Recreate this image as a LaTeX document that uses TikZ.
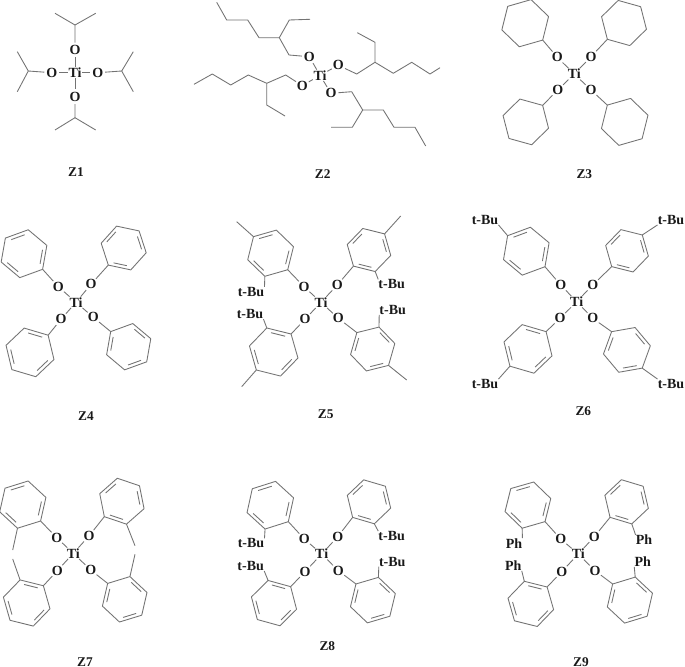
\documentclass[tikz,border=0pt]{standalone}
\usepackage{fontspec}
\setmainfont{Liberation Serif}
\usetikzlibrary{calc}
\tikzset{
  bond/.style={draw=black!55,line width=0.65pt,line join=round},
  atomlab/.style={font=\fontsize{10.5}{11}\selectfont\bfseries,text=black!90,inner sep=0.4pt},
  oatom/.style={atomlab,circle,inner sep=0pt},
  subst/.style={font=\fontsize{10.5}{11}\selectfont\bfseries,text=black!90,inner sep=0pt},
  caption/.style={font=\fontsize{10}{11}\selectfont\bfseries,text=black!90,inner sep=0pt}
}
% ring: name, centre, angle of the carbon bound to O (image sense), radius, aromatic flag handled by caller
\newcommand{\ringpts}[4]{%
  \coordinate (#1c) at (#2);
  \coordinate (#1v0) at ($(#1c)+({#3}:#4)$);
  \coordinate (#1v1) at ($(#1c)+({#3-60}:#4)$);
  \coordinate (#1v2) at ($(#1c)+({#3-120}:#4)$);
  \coordinate (#1v3) at ($(#1c)+({#3-180}:#4)$);
  \coordinate (#1v4) at ($(#1c)+({#3-240}:#4)$);
  \coordinate (#1v5) at ($(#1c)+({#3-300}:#4)$);
  \draw[bond] (#1v0)--(#1v1)--(#1v2)--(#1v3)--(#1v4)--(#1v5)--cycle;
}
\newcommand{\cyhex}[5]{% name, centre, angle, radius, O node
  \ringpts{#1}{#2}{#3}{#4}
  \draw[bond] (#5)--(#1v0);
}
\newcommand{\aryl}[5]{% name, centre, angle, radius, O node
  \ringpts{#1}{#2}{#3}{#4}
  \draw[bond] ($(#1c)+({#3-8}:{0.78*#4})$)--($(#1c)+({#3-52}:{0.78*#4})$);
  \draw[bond] ($(#1c)+({#3-128}:{0.78*#4})$)--($(#1c)+({#3-172}:{0.78*#4})$);
  \draw[bond] ($(#1c)+({#3-248}:{0.78*#4})$)--($(#1c)+({#3-292}:{0.78*#4})$);
  \draw[bond] (#5)--(#1v0);
}
\newcommand{\core}[9]{% prefix, Ti, O1..O4, caption text, caption pos, (unused)
  \node[atomlab] (#1Ti) at (#2) {Ti};
  \node[oatom] (#1Oa) at (#3) {O};
  \node[oatom] (#1Ob) at (#4) {O};
  \node[oatom] (#1Oc) at (#5) {O};
  \node[oatom] (#1Od) at (#6) {O};
  \draw[bond] (#1Ti)--(#1Oa);
  \draw[bond] (#1Ti)--(#1Ob);
  \draw[bond] (#1Ti)--(#1Oc);
  \draw[bond] (#1Ti)--(#1Od);
  \node[caption] (#1cap) at (#8) {#7};
}
\newcommand{\sublab}[5]{% label name, vertex, text, position, anchor of the label
  \node[subst] (#1) at (#4) {#3};
  \draw[bond] (#2)--(#1.#5);
}
\newcommand{\methyl}[3]{% name, vertex, end
  \coordinate (#1) at (#3);
  \draw[bond] (#2)--(#1);
}
\newcommand{\chainpts}[2]{\draw[bond] #1 #2;}
\begin{document}
\begin{tikzpicture}[x=0.75pt,y=-0.75pt]
\path[fill=white,use as bounding box] (0,0) rectangle (685,667);

% ---------- Z1 ----------
\core{a}{75,72.7}{75,50}{97.7,72.7}{51.7,72.7}{75,96.7}{Z1}{76,171.7}{}
\coordinate (a1) at (75,25);
\coordinate (a1l) at (55,13.3);
\coordinate (a1r) at (95.7,13.3);
\draw[bond] (aOa)--(a1) (a1l)--(a1)--(a1r);
\coordinate (a2) at (121.7,71);
\coordinate (a2l) at (133.3,51.7);
\coordinate (a2r) at (133.3,91.7);
\draw[bond] (aOb)--(a2) (a2l)--(a2)--(a2r);
\coordinate (a3) at (28.3,71);
\coordinate (a3l) at (17.3,51.7);
\coordinate (a3r) at (17.3,91.7);
\draw[bond] (aOc)--(a3) (a3l)--(a3)--(a3r);
\coordinate (a4) at (75,117.7);
\coordinate (a4l) at (55,130);
\coordinate (a4r) at (95.7,130);
\draw[bond] (aOd)--(a4) (a4l)--(a4)--(a4r);

% ---------- Z2 ----------
\core{b}{320,75.3}{309.3,56.7}{338.3,65.3}{302.3,85.7}{331,93.3}{Z2}{322.7,174}{}
\coordinate (b1a) at (289,55);
\coordinate (b1b) at (279.3,37.7);
\draw[bond] (bOa)--(b1a)--(b1b)--(289.3,20)--(310,19.3);
\draw[bond] (b1b)--(259,37.7)--(247.7,20)--(226.7,20)--(216.7,2.3);
\coordinate (b2a) at (356.7,74);
\coordinate (b2b) at (375,62.3);
\draw[bond] (bOb)--(b2a)--(b2b)--(375,42.3)--(357.3,32.7);
\draw[bond] (b2b)--(393.3,73.3)--(411.7,62.3)--(430,74)--(440,67.7);
\coordinate (b3a) at (285.7,75);
\coordinate (b3b) at (266.7,83.3);
\draw[bond] (bOc)--(b3a)--(b3b)--(266.7,105)--(285,116);
\draw[bond] (b3b)--(248.3,75)--(230.7,85)--(212.3,74)--(194,84.3);
\coordinate (b4a) at (351.7,91.7);
\coordinate (b4b) at (362.7,110);
\draw[bond] (bOd)--(b4a)--(b4b)--(352.3,127.3)--(331,127.3);
\draw[bond] (b4b)--(383.3,110)--(394,127.3)--(415,127.3)--(425.7,146);

% ---------- Z3 ----------
\core{c}{574.3,74}{557.3,57.3}{591,56.7}{557.7,90}{591,90}{Z3}{584.3,174}{}
\cyhex{c1}{525.2,23.2}{44}{24.3}{cOa}
\cyhex{c2}{624,23}{135.6}{23.3}{cOb}
\cyhex{c3}{525.8,121.9}{-44.5}{23.6}{cOc}
\cyhex{c4}{624.7,121.9}{224}{24.2}{cOd}

% ---------- Z4 ----------
\core{d}{76,302.3}{58.3,286.7}{91,284.3}{61,319.3}{93.3,317.3}{Z4}{86,415.7}{}
\aryl{d1}{24,253.7}{40}{24.3}{dOa}
\aryl{d2}{123.7,248}{132}{23}{dOb}
\aryl{d3}{30,352.4}{-43.5}{25}{dOc}
\aryl{d4}{128.7,346.7}{220}{23.5}{dOd}

% ---------- Z5 ----------
\core{e}{321,302.3}{304,286.7}{337.3,285}{305,319.3}{338.3,318.3}{Z5}{325.7,414.3}{}
\aryl{e1}{270.6,253.2}{44}{23.8}{eOa}
\aryl{e2}{369,250}{134}{22.4}{eOb}
\aryl{e3}{273.7,352}{-46}{25}{eOc}
\aryl{e4}{372.7,349}{226}{22.8}{eOd}
\sublab{e1l}{e1v5}{t-Bu}{251,291.7}{north east}
\sublab{e2l}{e2v1}{t-Bu}{391.7,284.3}{north west}
\sublab{e3l}{e3v1}{t-Bu}{250,314.3}{south east}
\sublab{e4l}{e4v5}{t-Bu}{392.7,310}{south west}
\methyl{e1m}{e1v3}{236.7,221.7}
\methyl{e2m}{e2v3}{400.7,216}
\methyl{e3m}{e3v3}{241.7,386.7}
\methyl{e4m}{e4v3}{406.7,380}

% ---------- Z6 ----------
\core{f}{576.7,301.7}{560.7,285}{592.7,285}{560,318.3}{592.7,318.3}{Z6}{583.3,410.7}{}
\aryl{f1}{526.3,251.2}{39.7}{24.3}{fOa}
\aryl{f2}{627,250.8}{134}{22}{fOb}
\aryl{f3}{528,348.9}{-43.7}{25}{fOc}
\aryl{f4}{626.9,349.9}{230}{23.8}{fOd}
\sublab{f1l}{f1v3}{t-Bu}{485,220}{south east}
\sublab{f2l}{f2v3}{t-Bu}{671,220}{south west}
\sublab{f3l}{f3v3}{t-Bu}{485,384}{north east}
\sublab{f4l}{f4v3}{t-Bu}{671,384}{north west}

% ---------- Z7 ----------
\core{g}{73.3,553.3}{56.7,537.7}{89,536}{57.3,570.7}{90.7,570}{Z7}{85,661.7}{}
\aryl{g1}{22.8,504.6}{42.7}{24.2}{gOa}
\aryl{g2}{121.9,501.2}{138.7}{23.4}{gOb}
\aryl{g3}{26.7,603}{-46}{24}{gOc}
\aryl{g4}{124.7,599.3}{223}{23.3}{gOd}
\methyl{g1m}{g1v5}{12.7,550}
\methyl{g2m}{g2v1}{135,545.7}
\methyl{g3m}{g3v1}{12.7,559}
\methyl{g4m}{g4v5}{135,554.3}

% ---------- Z8 ----------
\core{h}{321.7,554}{304.3,539}{337.7,536.7}{305,571.7}{338.3,570.7}{Z8}{327.3,646}{}
\aryl{h1}{270.3,505.2}{42.4}{24.4}{hOa}
\aryl{h2}{369,501.8}{136.4}{22.6}{hOb}
\aryl{h3}{274,603.1}{-44.6}{23.4}{hOc}
\aryl{h4}{372.9,600.1}{223.6}{23.4}{hOd}
\sublab{h1l}{h1v5}{t-Bu}{251,543.3}{north east}
\sublab{h2l}{h2v1}{t-Bu}{391.7,536}{north west}
\sublab{h3l}{h3v1}{t-Bu}{250.7,566}{south east}
\sublab{h4l}{h4v5}{t-Bu}{392.3,561.7}{south west}

% ---------- Z9 ----------
\core{k}{578.3,554}{560.7,539}{594.3,536.7}{561.7,571.7}{595,570.7}{Z9}{581,661.7}{}
\aryl{k1}{527.9,505.1}{44}{23.8}{kOa}
\aryl{k2}{626.6,501.8}{136.8}{22.7}{kOb}
\aryl{k3}{530.8,603.9}{-46}{23.5}{kOc}
\aryl{k4}{629.9,600.1}{223}{23.6}{kOd}
\sublab{k1l}{k1v5}{Ph}{514,543.3}{north east}
\sublab{k2l}{k2v1}{Ph}{644,540}{north west}
\sublab{k3l}{k3v1}{Ph}{513.3,565.7}{south east}
\sublab{k4l}{k4v5}{Ph}{642.7,561.7}{south west}
\end{tikzpicture}
\end{document}
